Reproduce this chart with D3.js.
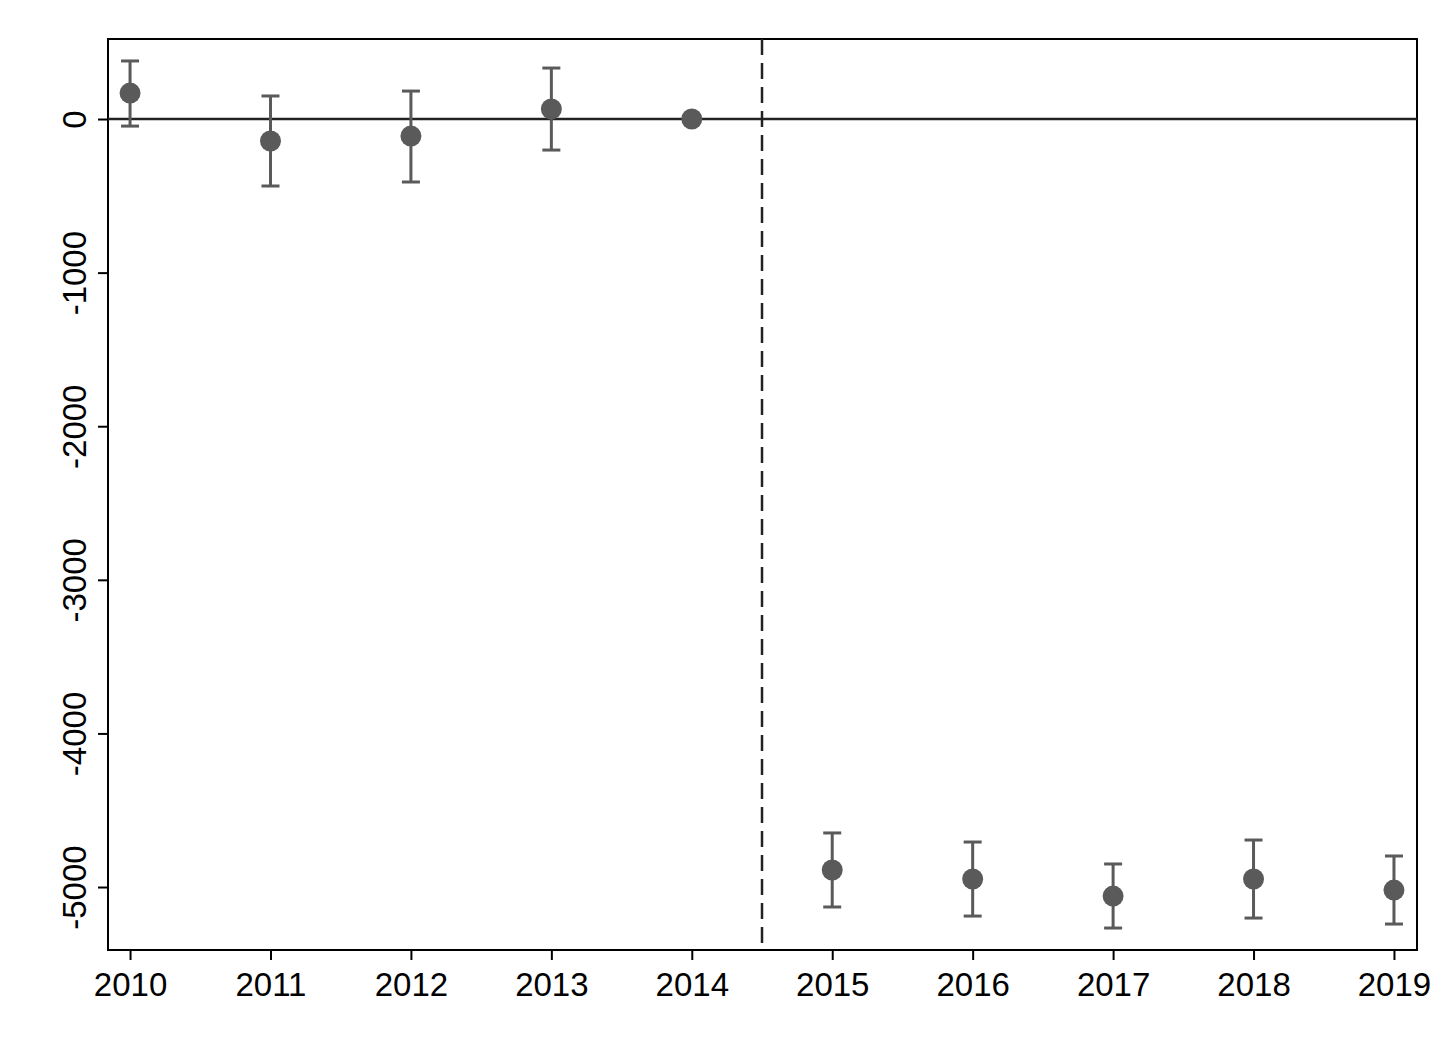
<!DOCTYPE html>
<html><head><meta charset="utf-8">
<script src="https://cdn.jsdelivr.net/npm/d3@7"></script>
<style>body{margin:0;background:#fff}</style>
</head><body>
<script>
// event-study estimates
var years = [2010, 2011, 2012, 2013, 2014, 2015, 2016, 2017, 2018, 2019];
var coef  = [169, -143, -111, 65, 0, -4889, -4948, -5059, -4948, -5020];
var lower = [-46, -436, -410, -202, null, -5130, -5189, -5267, -5202, -5241];
var upper = [378, 150, 182, 332, null, -4648, -4707, -4850, -4694, -4798];
var yTicks = [0, -1000, -2000, -3000, -4000, -5000];
var cutYear = 2014.5;

var W = 1456, H = 1059;
var m = {left: 108, right: 1417, top: 39, bottom: 950};
var svg = d3.select("body").append("svg").attr("width", W).attr("height", H);

var x = d3.scaleLinear().domain([2009.843, 2019.164]).range([m.left, m.right]);
var y = d3.scaleLinear().domain([521, -5410]).range([m.top, m.bottom]);

var col = "#5a5a5a";
var font = "Liberation Sans, Arial, sans-serif";
var fmt = function(d){ return String(d); };

// axes
var xa = svg.append("g").attr("transform", "translate(0," + m.bottom + ")")
    .call(d3.axisBottom(x).tickValues(years).tickFormat(fmt).tickSize(10).tickSizeOuter(0));
var ya = svg.append("g").attr("transform", "translate(" + m.left + ",0)")
    .call(d3.axisLeft(y).tickValues(yTicks).tickFormat(fmt).tickSize(10).tickSizeOuter(0));
[xa, ya].forEach(function(a){
    a.attr("font-size", null).attr("font-family", null);
    a.select(".domain").remove();
    a.selectAll("line").attr("stroke", "#000").attr("stroke-width", 2);
    a.selectAll("text").style("font-family", font).style("font-size", "33px").attr("fill", "#000");
});
xa.selectAll("text").attr("y", 16).attr("dy", "0.9em");
ya.selectAll("text").attr("x", 0).attr("y", 0).attr("dy", 0)
    .attr("text-anchor", "middle")
    .attr("transform", "translate(-22,0) rotate(-90)");

// frame
svg.append("rect").attr("x", m.left).attr("y", m.top)
    .attr("width", m.right - m.left).attr("height", m.bottom - m.top)
    .attr("fill", "none").attr("stroke", "#000").attr("stroke-width", 2);

// reference lines
svg.append("line").attr("x1", m.left).attr("x2", m.right).attr("y1", y(0)).attr("y2", y(0))
    .attr("stroke", "#222").attr("stroke-width", 2.5);
svg.append("line").attr("x1", x(cutYear)).attr("x2", x(cutYear)).attr("y1", m.top).attr("y2", m.bottom)
    .attr("stroke", "#222").attr("stroke-width", 2.5).attr("stroke-dasharray", "16,8");

// error bars
var ci = years.map(function(d, i){ return {yr: d, lo: lower[i], hi: upper[i]}; })
    .filter(function(d){ return d.lo !== null; });
var g = svg.append("g").attr("stroke", col).attr("stroke-width", 3);
g.selectAll(".v").data(ci).enter().append("line")
    .attr("x1", function(d){ return x(d.yr); }).attr("x2", function(d){ return x(d.yr); })
    .attr("y1", function(d){ return y(d.lo); }).attr("y2", function(d){ return y(d.hi); });
["lo", "hi"].forEach(function(k){
    g.selectAll(".c" + k).data(ci).enter().append("line")
        .attr("x1", function(d){ return x(d.yr) - 9; }).attr("x2", function(d){ return x(d.yr) + 9; })
        .attr("y1", function(d){ return y(d[k]); }).attr("y2", function(d){ return y(d[k]); });
});

// points
svg.selectAll("circle.pt").data(years).enter().append("circle")
    .attr("cx", function(d){ return x(d); }).attr("cy", function(d, i){ return y(coef[i]); })
    .attr("r", 10.5).attr("fill", col);
</script>
</body></html>
